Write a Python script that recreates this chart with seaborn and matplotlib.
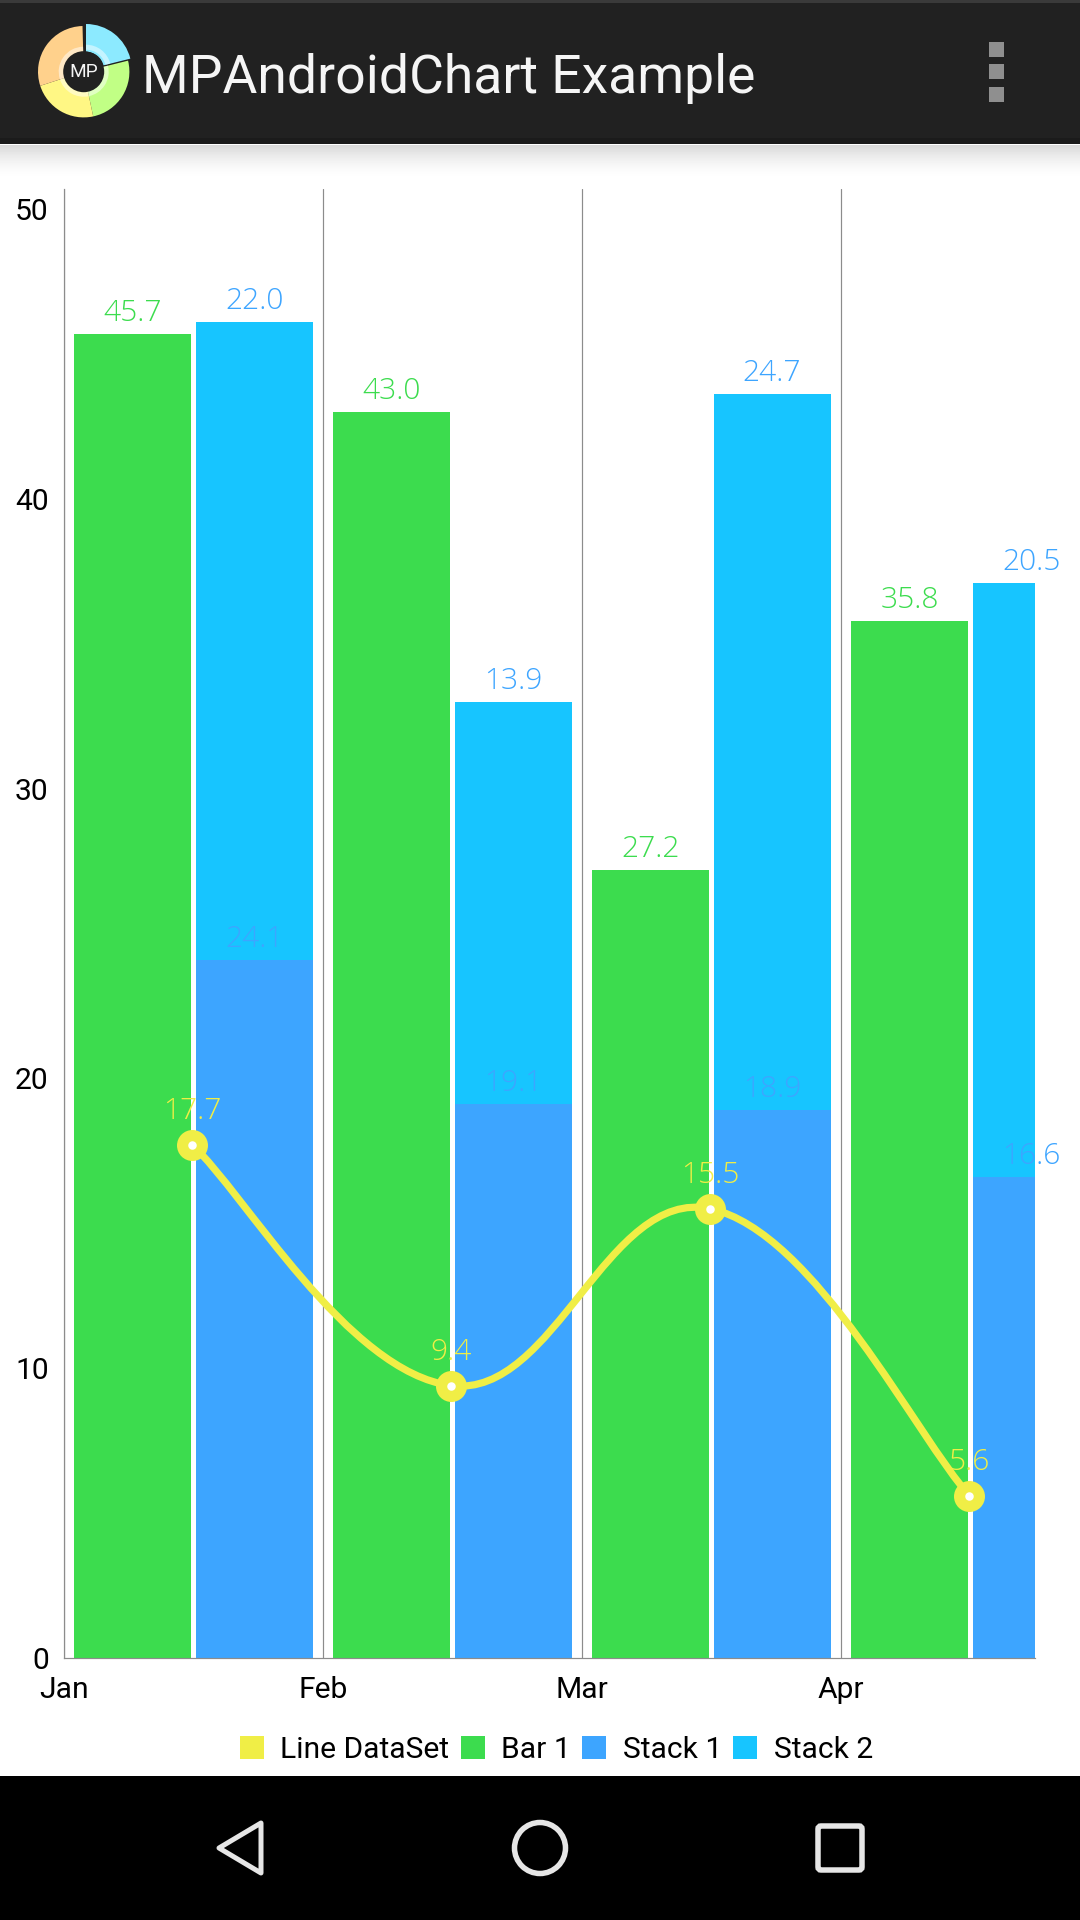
import numpy as np
import pandas as pd
import matplotlib
matplotlib.use("Agg")
import matplotlib.pyplot as plt
import seaborn as sns
from matplotlib.path import Path
from matplotlib.patches import PathPatch, Rectangle, Wedge, Circle, FancyBboxPatch, Polygon

months = ["Jan", "Feb", "Mar", "Apr"]
line_values = [17.7, 9.4, 15.5, 5.6]
bar1_values = [45.7, 43.0, 27.2, 35.8]
stack1_values = [24.1, 19.1, 18.9, 16.6]
stack2_values = [22.0, 13.9, 24.7, 20.5]
y_ticks = [0, 10, 20, 30, 40, 50]
title_text = "MPAndroidChart Example"

LINE_C = "#F0EE46"
BAR_C = "#3CDC4E"
ST1_C = "#3DA5FF"
ST2_C = "#17C5FF"

W, H = 1080, 1920
PX = 0.72  # points per pixel at dpi 100
sns.set_theme(style="white")
plt.rcParams["font.family"] = ["Roboto", "DejaVu Sans"]

fig = plt.figure(figsize=(W / 100, H / 100), dpi=100, facecolor="white")

# ---- device chrome, in pixel coordinates
bg = fig.add_axes([0, 0, 1, 1], zorder=0)
bg.set_xlim(0, W)
bg.set_ylim(H, 0)
bg.axis("off")
bg.add_patch(Rectangle((0, 0), W, 144, fc="#212121", ec="none"))
bg.add_patch(Rectangle((0, 0), W, 3, fc="#3A3A3A", ec="none"))
bg.add_patch(Rectangle((0, 138), W, 6, fc="#1B1B1B", ec="none"))
grad = 1 - 0.15 * np.linspace(1, 0, 36) ** 1.8
bg.imshow(grad[:, None], extent=(0, W, 181, 145), cmap="gray", vmin=0, vmax=1,
          aspect="auto", zorder=1)
bg.set_xlim(0, W)
bg.set_ylim(H, 0)
bg.add_patch(Rectangle((0, 1776), W, 144, fc="black", ec="none"))
bg.text(142.5, 93, title_text, color="#F5F5F5", fontsize=53.5 * PX, va="baseline", ha="left")

# logo (y axis is flipped, so angles run clockwise)
cx, cy, r = 83.7, 71.7, 45.7
for t1, t2, col, dx, dy in [(-90, -14, "#8CEAFF", 2.3, -2), (-14, 78, "#C1FF85", 0, 0),
                            (78, 162, "#FFF784", 0, 0), (162, 268.5, "#FFD18C", 0, 0)]:
    bg.add_patch(Wedge((cx + dx, cy + dy), r, t1, t2, width=r - 18, fc=col, ec="none"))
    bg.add_patch(Wedge((cx + dx, cy + dy), 25, t1, t2, width=5, fc="white", ec="none", alpha=0.5))
bg.add_patch(Circle((cx, cy), 20.5, fc="#212121", ec="none", zorder=3))
bg.text(cx + 0.5, cy + 0.5, "MP", color="#F5F5F5", fontsize=19 * PX, ha="center", va="center", zorder=4)

for y0 in (42, 64, 87):
    bg.add_patch(Rectangle((989, y0), 15, 15, fc="#8F8F8F", ec="none"))

NAV = "#E6E6E6"
bg.add_patch(Polygon([(261, 1823), (219, 1848), (261, 1873)], closed=True, fill=False,
                     ec=NAV, lw=5 * PX, joinstyle="round"))
bg.add_patch(Circle((540, 1848), 25.5, fill=False, ec=NAV, lw=5.5 * PX))
bg.add_patch(FancyBboxPatch((818, 1826), 44, 44, boxstyle="round,pad=0,rounding_size=3",
                            fill=False, ec=NAV, lw=5.5 * PX))

# ---- chart
L, R, T, B = 64.0, 1035, 189, 1658
ax = fig.add_axes([L / W, 1 - B / H, (R - L) / W, (B - T) / H], zorder=1, facecolor="none")

n = np.arange(len(months))
OFF1, OFF2, BW = 0.265, 0.734, 0.452
stack_top = [a + b for a, b in zip(stack1_values, stack2_values)]
df1 = pd.DataFrame({"pos": n + OFF1, "value": bar1_values})
df2 = pd.DataFrame({"pos": n + OFF2, "stack1": stack1_values, "top": stack_top})

sns.barplot(data=df1, x="pos", y="value", native_scale=True, width=BW, color=BAR_C,
            saturation=1, errorbar=None, ax=ax, zorder=2, linewidth=0)
sns.barplot(data=df2, x="pos", y="top", native_scale=True, width=BW, color=ST2_C,
            saturation=1, errorbar=None, ax=ax, zorder=2, linewidth=0)
sns.barplot(data=df2, x="pos", y="stack1", native_scale=True, width=BW, color=ST1_C,
            saturation=1, errorbar=None, ax=ax, zorder=2.1, linewidth=0)

# cubic line through the data points
lx = n + 0.496
ly = np.array(line_values)
K = 0.2
verts = [(lx[0], ly[0])]
codes = [Path.MOVETO]
for i in range(1, len(lx)):
    pp = max(i - 2, 0)
    nx = min(i + 1, len(lx) - 1)
    d0x, d0y = (lx[i] - lx[pp]) * K, (ly[i] - ly[pp]) * K
    d1x, d1y = (lx[nx] - lx[i - 1]) * K, (ly[nx] - ly[i - 1]) * K
    verts += [(lx[i - 1] + d0x, ly[i - 1] + d0y), (lx[i] - d1x, ly[i] - d1y), (lx[i], ly[i])]
    codes += [Path.CURVE4] * 3
ax.add_patch(PathPatch(Path(verts, codes), fill=False, ec=LINE_C, lw=7.2 * PX, zorder=3, clip_on=False))
df_line = pd.DataFrame({"pos": lx, "value": ly})
sns.scatterplot(data=df_line, x="pos", y="value", color=LINE_C, s=(31 * PX) ** 2, linewidth=0,
                ax=ax, zorder=4, clip_on=False)
sns.scatterplot(data=df_line, x="pos", y="value", color="white", s=(8.5 * PX) ** 2, linewidth=0,
                ax=ax, zorder=5, clip_on=False)

ax.set_xlim(0, (R - L) / 259)
ax.set_ylim(0, (B - T) / 28.98)
ax.set_xticks(n, months)
ax.set_yticks(y_ticks)
ax.set_xlabel("")
ax.set_ylabel("")
ax.tick_params(axis="both", length=0, labelsize=30 * PX, labelcolor="black")
ax.tick_params(axis="x", pad=13)
ax.tick_params(axis="y", pad=11)
GRID = "#8C8C8C"
ax.xaxis.grid(True, color=GRID, lw=1.2 * PX, zorder=1)
ax.yaxis.grid(False)
ax.set_axisbelow(True)
for s in ("top", "right"):
    ax.spines[s].set_visible(False)
for s in ("left", "bottom"):
    ax.spines[s].set_color(GRID)
    ax.spines[s].set_linewidth(1.2 * PX)

# value labels
VF = dict(family=["Open Sans", "DejaVu Sans"], fontweight="light", fontsize=30 * PX, ha="center",
          va="baseline", zorder=6, annotation_clip=False, textcoords="offset points")


def labels(xs, ys, vals, col, off):
    for x, y, v in zip(xs, ys, vals):
        ax.annotate(f"{v:.1f}", (x, y), xytext=(0, off * PX), color=col, **VF)


labels(n + OFF1, bar1_values, bar1_values, BAR_C, 13)
labels(n + OFF2, stack1_values, stack1_values, ST1_C, 13)
labels(n + OFF2, stack_top, stack2_values, ST1_C, 13)
labels(lx, ly, line_values, LINE_C, 26)

# legend
handles = [Rectangle((0, 0), 1, 1, fc=c, ec="none") for c in (LINE_C, BAR_C, ST1_C, ST2_C)]
fig.legend(handles, ["Line DataSet", "Bar 1", "Stack 1", "Stack 2"], ncol=4,
           loc="center", bbox_to_anchor=(556.5 / W, 1 - 1750 / H), frameon=False,
           fontsize=30 * PX, handlelength=0.8, handleheight=0.8, handletextpad=0.55,
           columnspacing=0.38, borderpad=0, labelcolor="black")

fig.savefig("out.png", dpi=100)
